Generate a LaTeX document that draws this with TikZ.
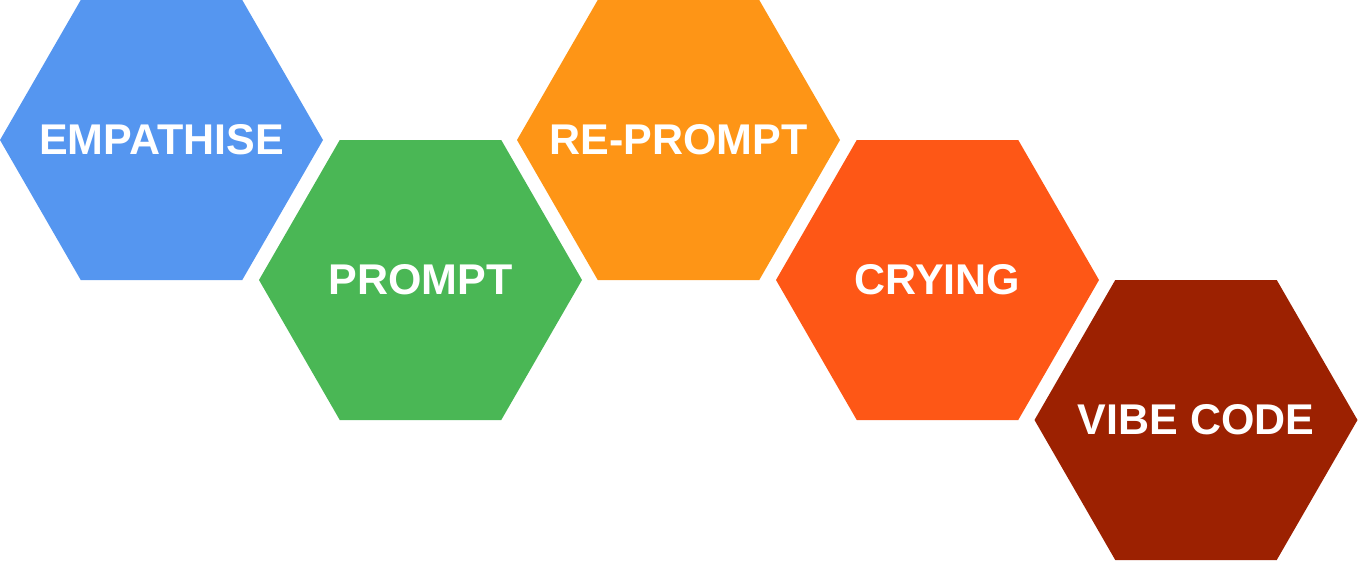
\documentclass[tikz,border=0pt]{standalone}
\usepackage{fontspec}
\setmainfont{Liberation Sans}
\definecolor{cA}{HTML}{5596F0}
\definecolor{cB}{HTML}{4AB755}
\definecolor{cC}{HTML}{FE9516}
\definecolor{cD}{HTML}{FE5716}
\definecolor{cE}{HTML}{9C2101}
\tikzset{hexlabel/.style={text=white, inner sep=0pt, font=\fontsize{43}{43}\selectfont\bfseries},
hexfill/.style={insert path={++(-161.5,0) -- ++(80.75,-140) -- ++(161.5,0) -- ++(80.75,140) -- ++(-80.75,140) -- ++(-161.5,0) -- cycle}}}
\begin{document}
\begin{tikzpicture}[x=1pt,y=-1pt]
\useasboundingbox (0,0) rectangle (1358,560);
\coordinate (c1) at (161.5,140);
\coordinate (c2) at (420.5,280);
\coordinate (c3) at (678.5,140);
\coordinate (c4) at (937.5,280);
\coordinate (c5) at (1196,420);
\fill[cA] (c1) [hexfill];
\fill[cB] (c2) [hexfill];
\fill[cC] (c3) [hexfill];
\fill[cD] (c4) [hexfill];
\fill[cE] (c5) [hexfill];
\node[hexlabel] (h1) at (c1) {EMPATHISE};
\node[hexlabel] (h2) at (c2) {PROMPT};
\node[hexlabel] (h3) at (c3) {RE-PROMPT};
\node[hexlabel] (h4) at (c4) {CRYING};
\node[hexlabel] (h5) at (c5) {VIBE CODE};
\end{tikzpicture}
\end{document}
